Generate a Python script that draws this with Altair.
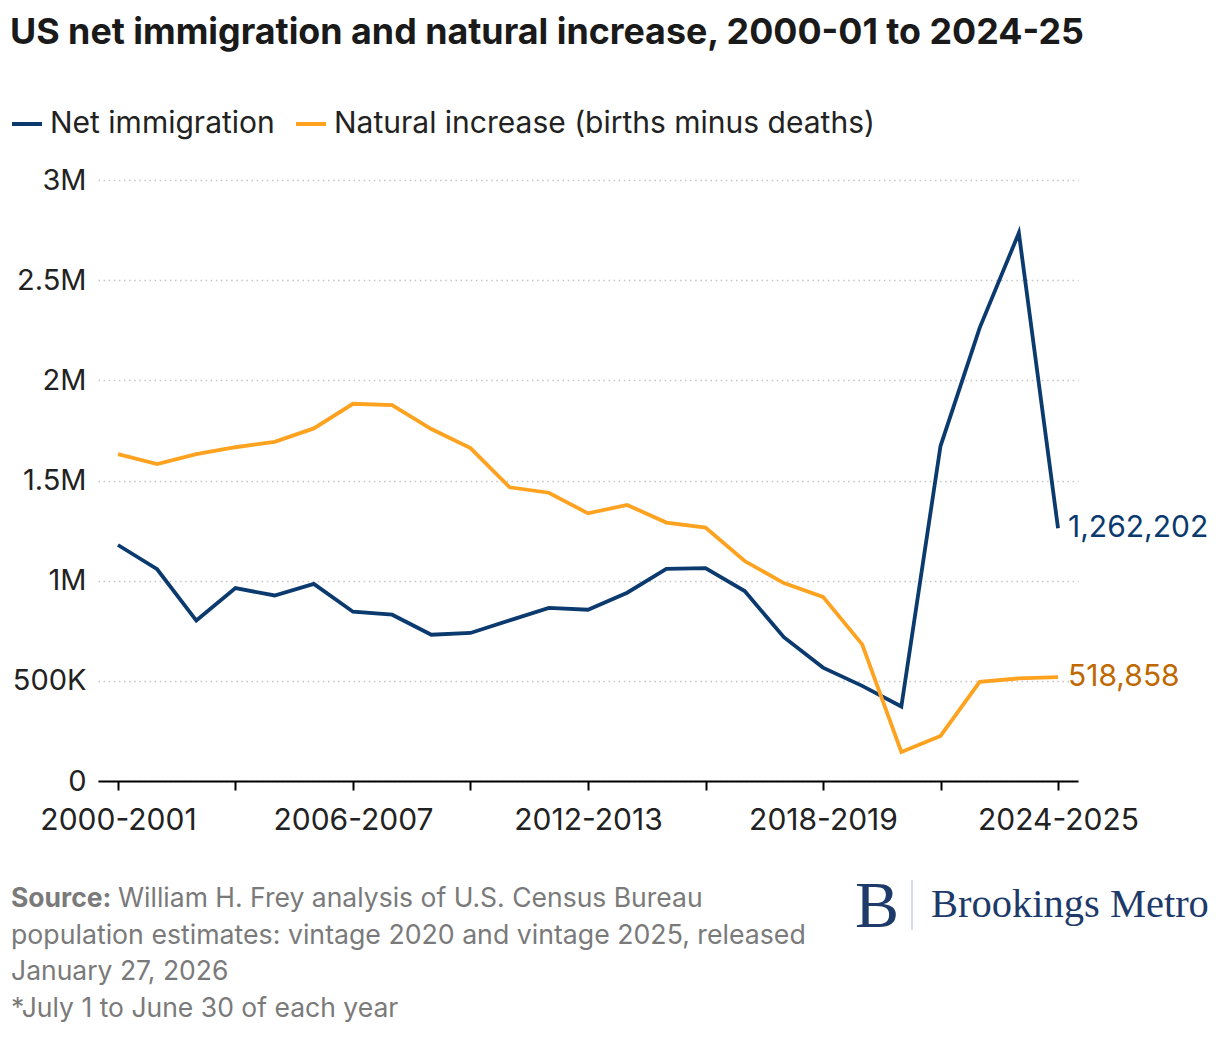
import altair as alt
import pandas as pd

# Fiscal-year periods (July 1 to June 30)
periods = [
    "2000-2001", "2001-2002", "2002-2003", "2003-2004", "2004-2005",
    "2005-2006", "2006-2007", "2007-2008", "2008-2009", "2009-2010",
    "2010-2011", "2011-2012", "2012-2013", "2013-2014", "2014-2015",
    "2015-2016", "2016-2017", "2017-2018", "2018-2019", "2019-2020",
    "2020-2021", "2021-2022", "2022-2023", "2023-2024", "2024-2025",
]

net_immigration = [
    1178000, 1057000, 801000, 963000, 926000, 984000, 845000, 830000,
    730000, 739000, 802000, 864000, 855000, 940000, 1059000, 1063000,
    948000, 718000, 566000, 475000, 372000, 1672000, 2262000, 2736000,
    1262202,
]

natural_increase = [
    1632000, 1582000, 1632000, 1666000, 1693000, 1760000, 1883000, 1876000,
    1757000, 1662000, 1466000, 1439000, 1336000, 1378000, 1290000, 1265000,
    1098000, 988000, 919000, 682000, 145000, 225000, 495000, 512000,
    518858,
]

series_names = ["Net immigration", "Natural increase (births minus deaths)"]
series_colors = ["#0b3a6f", "#ffa21f"]
label_colors = ["#0b3a6f", "#c06800"]

rows = []
for i, p in enumerate(periods):
    rows.append({"i": i, "period": p, "series": series_names[0],
                 "v": net_immigration[i], "lc": label_colors[0]})
    rows.append({"i": i, "period": p, "series": series_names[1],
                 "v": natural_increase[i], "lc": label_colors[1]})
df = pd.DataFrame(rows)

FONT = "Inter"
W, H = 980, 601
LEFT, TOP = 98, 180

x_enc = alt.X(
    "i:Q",
    scale=alt.Scale(domain=[-0.51, 24.51], nice=False, zero=False),
    axis=alt.Axis(
        values=list(range(0, 25, 3)),
        labelExpr="datum.value % 6 === 0 ? (2000 + datum.value) + '-' + (2001 + datum.value) : ''",
        title=None, grid=False,
        domainColor="#000000", domainWidth=2,
        tickColor="#000000", tickWidth=2, tickSize=9,
        labelFont=FONT, labelFontSize=30, labelColor="#222222",
        labelPadding=15, labelOverlap=False, labelFlush=False,
    ),
)

y_enc = alt.Y(
    "v:Q",
    scale=alt.Scale(domain=[0, 3000000], nice=False),
    axis=alt.Axis(
        values=[0, 500000, 1000000, 1500000, 2000000, 2500000, 3000000],
        labelExpr="datum.value === 0 ? '0' : (datum.value < 1000000 ? format(datum.value / 1000, 'd') + 'K' : format(datum.value / 1000000, '~g') + 'M')",
        title=None, domain=False, ticks=False,
        grid=True, gridColor="#c4c4c4", gridDash=[1.5, 3.6], gridWidth=1.3,
        labelFont=FONT, labelFontSize=29, labelColor="#222222", labelPadding=12,
    ),
)

color_enc = alt.Color(
    "series:N",
    scale=alt.Scale(domain=series_names, range=series_colors),
    sort=series_names,
    legend=alt.Legend(
        orient="none", legendX=-88, legendY=-73, direction="horizontal",
        title=None, symbolType="stroke", symbolSize=900, symbolStrokeWidth=4,
        labelFont=FONT, labelFontSize=30, labelColor="#222222",
        labelOffset=6, columnPadding=13, labelLimit=900,
    ),
)

lines = alt.Chart(df).mark_line(strokeWidth=3.8).encode(
    x=x_enc, y=y_enc, color=color_enc, detail="series:N"
)

# value labels at the right end of each line
last = df[df["i"] == len(periods) - 1]
end_labels = alt.Chart(last).mark_text(
    align="left", baseline="middle", dx=10, font=FONT, fontSize=30
).encode(
    x="i:Q", y="v:Q",
    text=alt.Text("v:Q", format=","),
    color=alt.Color("lc:N", scale=None),
)


def note(text, x, y, size, color, weight="normal", font=FONT, align="left"):
    return alt.Chart(pd.DataFrame({"t": [text]})).mark_text(
        align=align, baseline="alphabetic", font=font, fontSize=size,
        fontWeight=weight, color=color,
    ).encode(text="t:N", x=alt.value(x - LEFT), y=alt.value(y - TOP))


title = note("US net immigration and natural increase, 2000-01 to 2024-25",
             10, 44, 35.8, "#1a1a1a", weight="bold")

src_color = "#7a7a7a"
footer = [
    note("Source:", 11, 907, 26.5, src_color, weight="bold"),
    note("William H. Frey analysis of U.S. Census Bureau", 118, 907, 26.5, src_color),
    note("population estimates: vintage 2020 and vintage 2025, released", 11, 944, 26.7, src_color),
    note("January 27, 2026", 11, 980, 26.5, src_color),
    note("*July 1 to June 30 of each year", 11, 1017, 26.5, src_color),
]

logo_navy = "#1d3a6b"
logo = [
    note("B", 855, 927, 66, logo_navy, font="Liberation Serif"),
    note("Brookings Metro", 931, 917, 40.5, logo_navy, font="Liberation Serif"),
]
logo_bar = alt.Chart(pd.DataFrame({"a": [0]})).mark_rule(color="#c9d0dc", strokeWidth=1.5).encode(
    x=alt.value(912 - LEFT), y=alt.value(880 - TOP), y2=alt.value(930 - TOP)
)

chart = alt.layer(
    lines, end_labels, title, *footer, *logo, logo_bar
).properties(
    width=W, height=H,
    autosize=alt.AutoSizeParams(type="none"),
    padding={"left": LEFT, "top": TOP, "right": 1220 - LEFT - W, "bottom": 1038 - TOP - H},
    background="#ffffff",
).configure_view(stroke=None)

chart.save("out.html", embed_options={"renderer": "svg", "actions": False})
